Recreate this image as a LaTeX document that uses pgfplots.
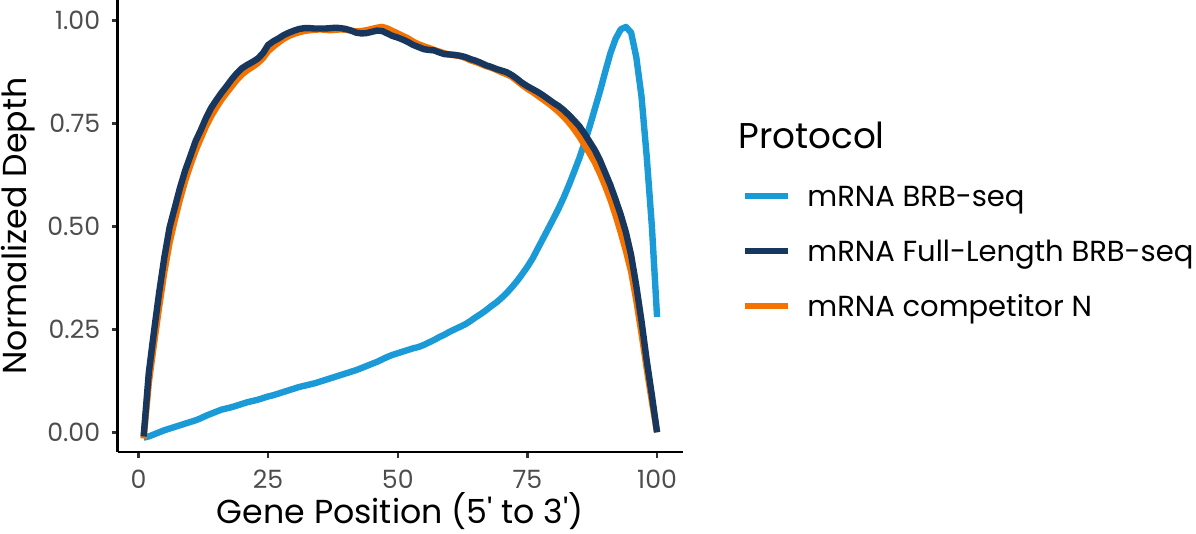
\documentclass[border=0pt]{standalone}
\usepackage{fontspec}
\setmainfont{Poppins}[Ligatures=TeXOff]
\usepackage{pgfplots}
\usepackage{pgfplotstable}
\pgfplotsset{compat=1.18}
\definecolor{brb}{HTML}{1A9BD7}
\definecolor{full}{HTML}{17375E}
\definecolor{comp}{HTML}{F47300}
\definecolor{ticktext}{HTML}{4D4D4D}

\pgfplotstableread{
x y
1 -0.013
2 -0.010
3 -0.005
4 0.000
5 0.005
6 0.009
7 0.013
8 0.017
9 0.021
10 0.025
11 0.029
12 0.034
13 0.040
14 0.045
15 0.050
16 0.055
17 0.058
18 0.061
19 0.065
20 0.069
21 0.073
22 0.076
23 0.079
24 0.083
25 0.087
26 0.090
27 0.094
28 0.098
29 0.102
30 0.106
31 0.110
32 0.113
33 0.116
34 0.119
35 0.123
36 0.127
37 0.131
38 0.135
39 0.139
40 0.143
41 0.147
42 0.151
43 0.156
44 0.161
45 0.166
46 0.171
47 0.177
48 0.183
49 0.188
50 0.192
51 0.196
52 0.200
53 0.204
54 0.207
55 0.212
56 0.218
57 0.224
58 0.231
59 0.237
60 0.244
61 0.250
62 0.256
63 0.262
64 0.270
65 0.279
66 0.287
67 0.296
68 0.306
69 0.315
70 0.326
71 0.338
72 0.352
73 0.367
74 0.384
75 0.402
76 0.422
77 0.446
78 0.470
79 0.494
80 0.518
81 0.543
82 0.570
83 0.600
84 0.632
85 0.665
86 0.702
87 0.742
88 0.785
89 0.828
90 0.875
91 0.920
92 0.955
93 0.978
94 0.984
95 0.970
96 0.910
97 0.815
98 0.670
99 0.500
100 0.280
}\brbdata

\pgfplotstableread{
x y
1 -0.010
2 0.145
3 0.245
4 0.340
5 0.425
6 0.497
7 0.545
8 0.593
9 0.635
10 0.670
11 0.706
12 0.733
13 0.762
14 0.787
15 0.806
16 0.824
17 0.840
18 0.857
19 0.872
20 0.884
21 0.892
22 0.899
23 0.907
24 0.920
25 0.940
26 0.949
27 0.956
28 0.964
29 0.970
30 0.975
31 0.979
32 0.981
33 0.981
34 0.980
35 0.980
36 0.980
37 0.981
38 0.982
39 0.981
40 0.979
41 0.975
42 0.970
43 0.968
44 0.969
45 0.972
46 0.975
47 0.974
48 0.968
49 0.962
50 0.958
51 0.953
52 0.947
53 0.940
54 0.935
55 0.930
56 0.928
57 0.927
58 0.922
59 0.918
60 0.917
61 0.916
62 0.914
63 0.911
64 0.906
65 0.902
66 0.897
67 0.891
68 0.887
69 0.882
70 0.878
71 0.874
72 0.867
73 0.858
74 0.848
75 0.840
76 0.833
77 0.826
78 0.818
79 0.809
80 0.800
81 0.792
82 0.782
83 0.770
84 0.757
85 0.743
86 0.725
87 0.705
88 0.685
89 0.660
90 0.630
91 0.600
92 0.565
93 0.528
94 0.485
95 0.430
96 0.355
97 0.270
98 0.175
99 0.090
100 0.000
}\fulldata

\pgfplotstableread{
x y
1 -0.015
2 0.120
3 0.215
4 0.305
5 0.390
6 0.460
7 0.515
8 0.565
9 0.610
10 0.648
11 0.683
12 0.713
13 0.742
14 0.767
15 0.788
16 0.807
17 0.824
18 0.840
19 0.856
20 0.869
21 0.879
22 0.887
23 0.896
24 0.908
25 0.925
26 0.936
27 0.946
28 0.955
29 0.962
30 0.967
31 0.971
32 0.974
33 0.976
34 0.977
35 0.978
36 0.977
37 0.976
38 0.977
39 0.978
40 0.977
41 0.975
42 0.973
43 0.974
44 0.976
45 0.979
46 0.982
47 0.984
48 0.980
49 0.974
50 0.968
51 0.962
52 0.956
53 0.948
54 0.942
55 0.937
56 0.933
57 0.928
58 0.924
59 0.920
60 0.917
61 0.915
62 0.913
63 0.909
64 0.903
65 0.899
66 0.894
67 0.889
68 0.885
69 0.880
70 0.874
71 0.869
72 0.863
73 0.853
74 0.843
75 0.834
76 0.826
77 0.817
78 0.808
79 0.799
80 0.789
81 0.778
82 0.766
83 0.752
84 0.736
85 0.718
86 0.698
87 0.677
88 0.655
89 0.628
90 0.598
91 0.565
92 0.527
93 0.485
94 0.440
95 0.390
96 0.320
97 0.240
98 0.155
99 0.075
100 0.000
}\compdata

\begin{document}
\begin{tikzpicture}
\path[use as bounding box] (-58.85pt,-41pt) rectangle (539.15pt,226pt);
\begin{axis}[
  at={(0pt,0pt)}, anchor=south west,
  scale only axis,
  width=282.65pt, height=226pt,
  xmin=-4.0, xmax=105.0,
  ymin=-0.0478, ymax=1.0493,
  clip=false,
  axis x line*=bottom, axis y line*=left,
  axis line style={line width=1.2pt, black, -},
  xtick={0,25,50,75,100},
  ytick={0,0.25,0.5,0.75,1},
  yticklabels={0.00,0.25,0.50,0.75,1.00},
  tick align=outside,
  major tick length=3pt,
  tick style={line width=1.2pt, color=black!80},
  /pgf/number format/assume math mode=true,
  ticklabel style={font=\fontsize{12.6}{15}\selectfont, text=ticktext},
  yticklabel style={anchor=east, inner sep=0pt, xshift=-5.6pt},
  xticklabel style={anchor=north, inner sep=0pt, yshift=-6pt},
  xlabel={Gene Position (5' to 3')},
  ylabel={Normalized Depth},
  label style={font=\fontsize{16.6}{19}\selectfont, inner sep=0pt},
  xlabel style={at={(axis description cs:0.5,-0.1575)}, anchor=base},
  ylabel style={at={(axis description cs:-0.1622,0.5)}, anchor=base},
  legend style={at={(1.1044,0.5892)}, anchor=north west, draw=none, fill=none,
    inner sep=0pt, outer sep=0pt, font=\fontsize{14.5}{17}\selectfont,
    row sep=13.5pt,
    nodes={inner sep=0pt, text height=10.5pt, text depth=3.5pt, anchor=base west}},
  legend cell align=left,
  legend image code/.code={\draw[#1, line width=3pt] (0pt,5.2pt) -- (21.5pt,5.2pt); \path (31pt,0pt);},
]
\addplot[brb, line width=3.2pt, line join=round, forget plot] table[x=x,y=y] {\brbdata};
\addplot[comp, line width=3.2pt, line join=round, forget plot] table[x=x,y=y] {\compdata};
\addplot[full, line width=3.2pt, line join=round, forget plot] table[x=x,y=y] {\fulldata};
\addlegendimage{brb}
\addlegendentry{mRNA BRB-seq}
\addlegendimage{full}
\addlegendentry{mRNA Full-Length BRB-seq}
\addlegendimage{comp}
\addlegendentry{mRNA competitor N}
\node[anchor=base west, inner sep=0pt, font=\fontsize{17.9}{20}\selectfont] at (rel axis cs:1.0973,0.6719) {Protocol};
\end{axis}
\end{tikzpicture}
\end{document}
